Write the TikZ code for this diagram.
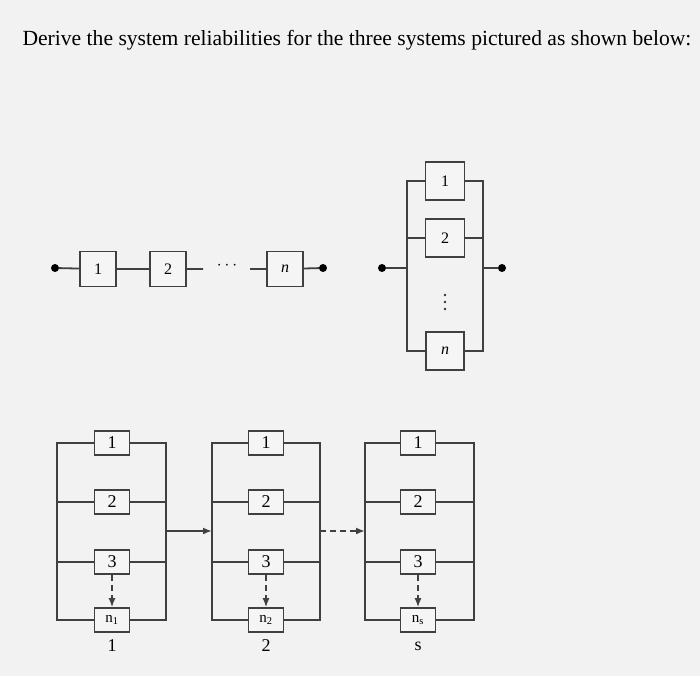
\documentclass[tikz,border=0pt]{standalone}
\usepackage{fontspec}
\setmainfont{Liberation Serif}
\usetikzlibrary{arrows.meta}
\begin{document}
\begin{tikzpicture}[x=1pt,y=-1pt,
  ln/.style={draw=black!75,line width=1.8pt},
  bx/.style={ln,fill=white!92!gray,minimum width=36pt,minimum height=35pt,inner sep=0pt,font=\fontsize{16}{16}\selectfont},
  sb/.style={ln,fill=white!92!gray,minimum width=35pt,minimum height=24pt,inner sep=0pt,font=\fontsize{18}{18}\selectfont},
  dot/.style={circle,fill=black,inner sep=0pt,minimum size=8pt},
  arr/.style={ln,-{Latex[length=9pt,width=7pt]}},
  dsh/.style={dash pattern=on 6pt off 4pt}]
\fill[white!90!gray] (0,0) rectangle (700,676);
\useasboundingbox (0,0) rectangle (700,676);
\node[anchor=west,font=\fontsize{21.6}{22}\selectfont] (title) at (19,40) {Derive the system reliabilities for the three systems pictured as shown below:};
% series
\node[dot] (sa) at (55,268) {};
\node[bx] (s1) at (98,269) {1};
\node[bx] (s2) at (168,269) {2};
\node[bx] (sn) at (285,269) {\itshape n};
\node[dot] (sb) at (323,268) {};
\coordinate (s2r) at (203,269); \coordinate (snl) at (250,269);
\draw[ln] (sa) -- (s1) -- (s2) -- (s2r);
\draw[ln] (snl) -- (sn) -- (sb);
\node[font=\fontsize{16}{16}\selectfont] (sd) at (227,266) {$\cdots$};
% parallel
\node[dot] (pa) at (382,268) {};
\node[dot] (pb) at (502,268) {};
\node[bx,minimum width=39pt,minimum height=38pt] (p1) at (445,181) {1};
\node[bx,minimum width=39pt,minimum height=38pt] (p2) at (445,238) {2};
\node[bx,minimum width=38pt,minimum height=38pt] (pn) at (445,351) {\itshape n};
\foreach \y in {295,302,309} \fill[black!80] (445,\y) circle (1.4pt);
\coordinate (pl) at (407,268); \coordinate (pr) at (483,268);
\draw[ln] (pa) -- (pl); \draw[ln] (pr) -- (pb);
\draw[ln] (p1.west) -| (407,351) -- (pn.west);
\draw[ln] (p1.east) -| (483,351) -- (pn.east);
\draw[ln] (p2.west) -- (407,238); \draw[ln] (p2.east) -- (483,238);
% stages
\foreach \i/\l/\r/\c/\nn/\lab in {A/57/166/112/n_1/1, B/212/320/266/n_2/2, C/365/474/418/n_s/s}{
  \node[sb] (\i1) at (\c,443) {1};
  \node[sb] (\i2) at (\c,502) {2};
  \node[sb] (\i3) at (\c,562) {3};
  \node[sb,font=\fontsize{15}{15}\selectfont] (\i n) at (\c,620) {$\mathrm{\nn}$};
  \node[font=\fontsize{18}{18}\selectfont] (\i lab) at (\c,646) {\lab};
  \draw[ln] (\i1.west) -| (\l,620) -- (\i n.west);
  \draw[ln] (\i1.east) -| (\r,620) -- (\i n.east);
  \draw[ln] (\i2.west) -- (\l,502); \draw[ln] (\i2.east) -- (\r,502);
  \draw[ln] (\i3.west) -- (\l,562); \draw[ln] (\i3.east) -- (\r,562);
  \draw[arr,dsh,line width=1.4pt] (\i3) -- (\i n);
  \coordinate (\i L) at (\l,531); \coordinate (\i R) at (\r,531);
}
\draw[arr] (AR) -- (BL);
\draw[arr,dsh] (BR) -- (CL);
\end{tikzpicture}
\end{document}
